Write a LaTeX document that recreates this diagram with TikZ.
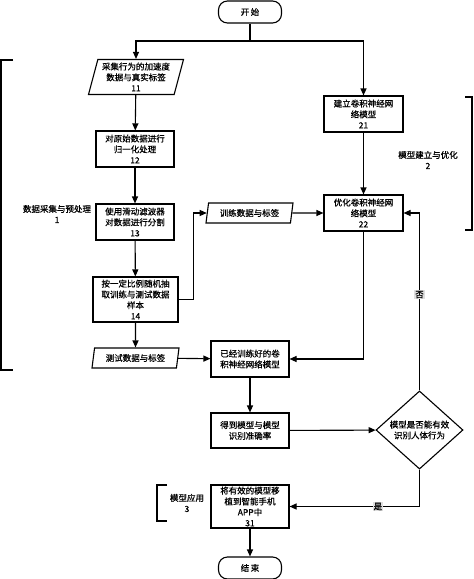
\documentclass[tikz,border=0pt]{standalone}
\usepackage{fontspec}
\setmainfont{Noto Sans CJK SC}[FakeBold=0.6]
\usetikzlibrary{shapes.geometric,arrows.meta}

\begin{document}
\begin{tikzpicture}[x=1pt,y=-1pt,line width=1.1pt,
  font=\fontsize{8.5}{10.8}\selectfont,
  box/.style={rectangle,draw,align=center,minimum width=78pt,minimum height=36pt,inner sep=1pt},
  io/.style={trapezium,trapezium left angle=72,trapezium right angle=108,trapezium stretches body,draw,align=center,inner sep=0pt,minimum width=87pt,minimum height=20pt},
  term/.style={rectangle,rounded corners=9pt,draw,minimum width=63pt,minimum height=22pt},
  ask/.style={diamond,draw,align=center,minimum width=87pt,minimum height=54pt,inner sep=0pt},
  tag/.style={fill=gray!25,inner sep=1pt},
  arr/.style={-{Triangle[length=7pt,width=6pt]}}]
\useasboundingbox (0,0) rectangle (474,579);

% left column
\node [term] (s) at (250,12) {开\,始};
\node [io,minimum width=95pt,minimum height=35pt] (n11) at (136,77) {采集行为的加速度\\数据与真实标签\\11};
\node [box] (n12) at (135,149) {对原始数据进行\\归一化处理\\12};
\node [box] (n13) at (135,222) {使用滑动滤波器\\对数据进行分割\\13};
\node [box,minimum width=85pt,minimum height=45pt] (n14) at (135.5,299.5) {按一定比例随机抽\\取训练与测试数据\\样本\\14};
\node [io] (te) at (135.5,358) {测试数据与标签};

% middle and right
\node [io] (tr) at (249.5,213) {训练数据与标签};
\node [box,minimum width=79pt] (n21) at (363.5,114) {建立卷积神经网\\络模型\\21};
\node [box,minimum width=79pt] (n22) at (363.5,213) {优化卷积神经网\\络模型\\22};
\node [box] (tm) at (250,359) {已经训练好的卷\\积神经网络模型};
\node [box,minimum height=35pt] (acc) at (250,430.5) {得到模型与模型\\识别准确率};
\node [ask] (d) at (419.5,430) {模型是否能有效\\识别人体行为};
\node [box,minimum height=43pt] (n31) at (250,506.5) {将有效的模型移\\植到智能手机\\APP中\\31};
\node [term] (e) at (250,568) {结\,束};

% group labels
\node [align=center] (g1) at (57,214) {数据采集与预处理\\1};
\node [align=center] (g2) at (428,160) {模型建立与优化\\2};
\node [align=center] (g3) at (187,503) {模型应用\\3};
\draw (13,60) -- (1,60) -- (1,370) -- (13,370);
\draw (465,97) -- (472,97) -- (472,230) -- (465,230);
\draw (167,485) -- (157,485) -- (157,521) -- (167,521);

% connectors
\coordinate (j) at (250,41);
\draw (s) -- (j);
\draw [arr] (j) -| (n11);
\draw [arr] (j) -| (n21);
\draw [arr] (n11) -- (n12);
\draw [arr] (n12) -- (n13);
\draw [arr] (n13) -- (n14);
\draw [arr] (n14) -- (te);
\draw [arr] (n14.east) -- ++(15,0) |- (tr);
\draw [arr] (tr) -- (n22);
\draw [arr] (n21) -- (n22);
\draw [arr] (n22) |- (tm);
\draw [arr] (te) -- (tm);
\draw [arr] (tm) -- (acc);
\draw [arr] (acc) -- (d);
\draw [arr] (d.north) |- node[pos=0.27,tag] {否} (n22.east);
\draw [arr] (d.south) |- node[pos=0.66,tag] {是} (n31.east);
\draw [arr] (n31) -- (e);
\end{tikzpicture}
\end{document}
